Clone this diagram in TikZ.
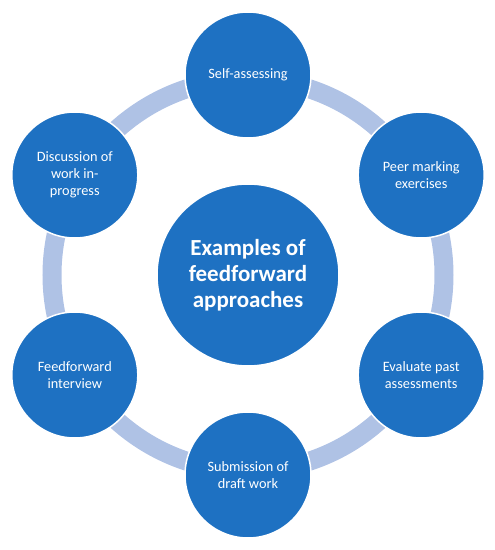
\documentclass[tikz,border=0pt]{standalone}
\usepackage{fontspec}
\usetikzlibrary{calc}
\setmainfont{Carlito}
\definecolor{cblue}{RGB}{30,113,194}
\definecolor{ring}{RGB}{175,194,229}
\begin{document}
\begin{tikzpicture}[x=1pt,y=1pt,
  outer/.style={circle,fill=cblue,draw=white,line width=1.5pt,minimum size=126pt,inner sep=0pt,
    text=white,align=center,font=\fontsize{14.3}{17}\selectfont},
  centre/.style={circle,fill=cblue,draw=white,line width=1.5pt,minimum size=182pt,inner sep=0pt,
    text=white,align=center,font=\fontsize{23}{26}\selectfont\bfseries}]
\useasboundingbox (0,0) rectangle (495,550);
\coordinate (c) at (248,275);
\draw[ring,line width=19pt] (c) circle[radius=196pt];
\node[centre] (mid) at (c) {Examples of\\feedforward\\approaches};
\node[outer] (top) at ($(c)+(90:200)$) {Self-assessing};
\node[outer] (ur) at ($(c)+(30:200)$) {Peer marking\\exercises};
\node[outer] (lr) at ($(c)+(-30:200)$) {Evaluate past\\assessments};
\node[outer] (bot) at ($(c)+(-90:200)$) {Submission of\\draft work};
\node[outer] (ll) at ($(c)+(210:200)$) {Feedforward\\interview};
\node[outer] (ul) at ($(c)+(150:200)$) {Discussion of\\work in-\\progress};
\end{tikzpicture}
\end{document}
